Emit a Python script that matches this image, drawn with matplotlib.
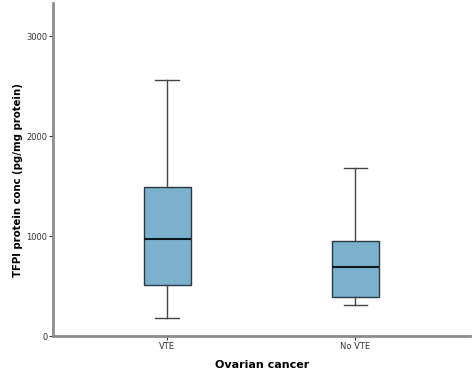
import matplotlib
matplotlib.use("Agg")
import matplotlib.pyplot as plt

groups = ["VTE", "No VTE"]
whislo = [180, 315]
q1 = [510, 390]
med = [970, 690]
q3 = [1490, 950]
whishi = [2565, 1678]

stats = []
for i in range(len(groups)):
    stats.append(dict(label=groups[i], whislo=whislo[i], q1=q1[i], med=med[i],
                      q3=q3[i], whishi=whishi[i], fliers=[]))

fig = plt.figure(figsize=(4.74, 3.79), dpi=100)
ax = fig.add_axes([0.112, 0.113, 0.88, 0.879])

ax.bxp(stats, positions=[1, 2], widths=0.25, patch_artist=True, showfliers=False,
       boxprops=dict(facecolor="#7bb1cd", edgecolor="#2a3a44", linewidth=1),
       medianprops=dict(color="#101820", linewidth=1.5),
       whiskerprops=dict(color="#444444", linewidth=1),
       capprops=dict(color="#444444", linewidth=1),
       capwidths=0.125)

ax.set_xlim(0.394, 2.61)
ax.set_ylim(0, 3330)
ax.set_yticks([0, 1000, 2000, 3000])
ax.set_xticks([1, 2])
ax.set_xticklabels(groups)

for s in ["top", "right"]:
    ax.spines[s].set_visible(False)
for s in ["left", "bottom"]:
    ax.spines[s].set_color("#8c8c8c")
    ax.spines[s].set_linewidth(2)

ax.tick_params(axis="both", labelsize=6, colors="#333333", length=3, width=0.8, pad=1)
ax.set_ylabel("TFPI protein conc (pg/mg protein)", fontsize=7.3, fontweight="bold")
ax.yaxis.set_label_coords(-0.072, 0.47)
ax.set_xlabel("Ovarian cancer", fontsize=8, fontweight="bold", labelpad=7)

fig.savefig("out.png", dpi=100)
